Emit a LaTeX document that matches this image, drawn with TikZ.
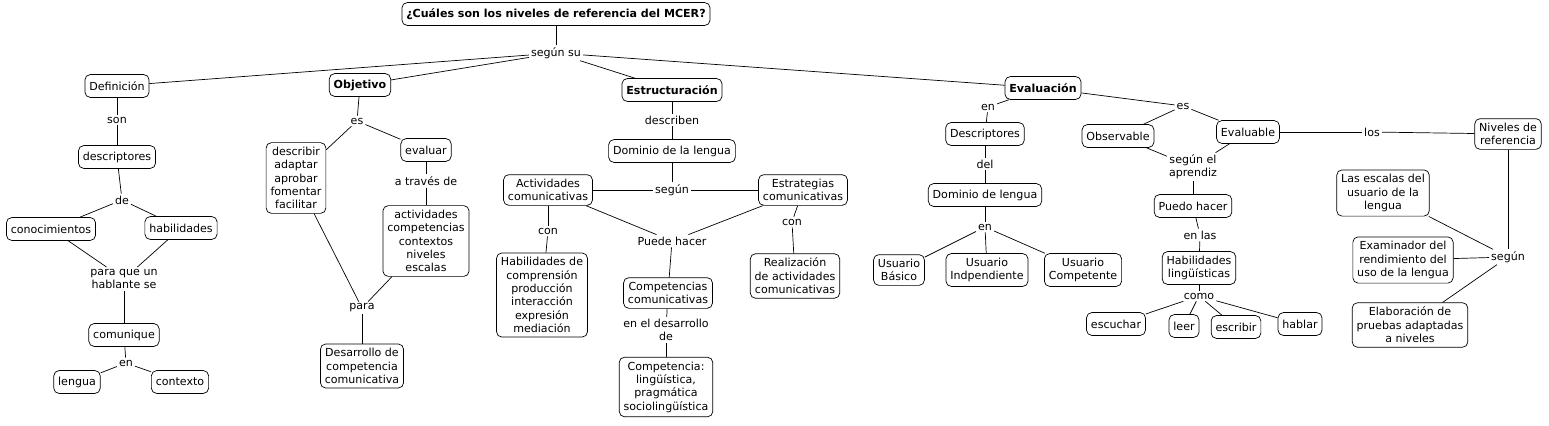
\documentclass[tikz,border=0pt]{standalone}
\usepackage{fontspec}
\setmainfont{DejaVu Sans}
\begin{document}
\begin{tikzpicture}[x=0.02cm, y=-0.02cm, font=\fontsize{6.3}{7.6}\selectfont,
  box/.style={draw, rounded corners=3pt, fill=white, align=center, inner sep=2.5pt, minimum height=13pt},
  lnk/.style={fill=white, align=center, inner sep=1pt}]
\useasboundingbox (0,0) rectangle (1549,426);
% nodos principales
\node[box, font=\fontsize{6.3}{7.6}\selectfont\bfseries] (tit) at (556,14) {¿Cuáles son los niveles de referencia del MCER?};
\node[lnk] (segsu) at (556,53) {según su};
\node[box] (def) at (117,86) {Definición};
\node[box, font=\fontsize{6.3}{7.6}\selectfont\bfseries] (obj) at (360,85) {Objetivo};
\node[box, font=\fontsize{6.3}{7.6}\selectfont\bfseries] (est) at (672,90) {Estructuración};
\node[box, font=\fontsize{6.3}{7.6}\selectfont\bfseries] (eva) at (1043,88) {Evaluación};
% definicion
\node[lnk] (son) at (117,120) {son};
\node[box] (desc) at (117,157) {descriptores};
\node[lnk] (de) at (122,200) {de};
\node[box] (con) at (51,229) {conocimientos};
\node[box] (hab) at (181,228) {habilidades};
\node[lnk] (pq) at (124,279) {para que un\\hablante se};
\node[box] (com) at (124,335) {comunique};
\node[lnk] (en1) at (126,363) {en};
\node[box] (len) at (77,382) {lengua};
\node[box] (ctx) at (180,382) {contexto};
% objetivo
\node[lnk] (es1) at (357,121) {es};
\node[box] (desb) at (296,178) {describir\\adaptar\\aprobar\\fomentar\\facilitar};
\node[box] (evl) at (426,150) {evaluar};
\node[lnk] (atr) at (426,181) {a través de};
\node[box] (act) at (426,241) {actividades\\competencias\\contextos\\niveles\\escalas};
\node[lnk] (para) at (362,308) {para};
\node[box] (dcc) at (362,366) {Desarrollo de\\competencia\\comunicativa};
% estructuracion
\node[lnk] (dsc) at (672,120) {describen};
\node[box] (dom) at (672,151) {Dominio de la lengua};
\node[box] (acom) at (548,190) {Actividades\\comunicativas};
\node[lnk] (seg1) at (672,190) {según};
\node[box] (ecom) at (803,190) {Estrategias\\comunicativas};
\node[lnk] (con1) at (548,231) {con};
\node[lnk] (con2) at (792,222) {con};
\node[box] (hcom) at (542,295) {Habilidades de\\comprensión\\producción\\interacción\\expresión\\mediación};
\node[lnk] (ph) at (672,241) {Puede hacer};
\node[box] (ccom) at (668,293) {Competencias\\comunicativas};
\node[lnk] (eld) at (666,330) {en el desarrollo\\de};
\node[box] (clps) at (666,387) {Competencia:\\lingüística,\\pragmática\\sociolingüística};
\node[box] (rac) at (795,276) {Realización\\de actividades\\comunicativas};
% evaluacion
\node[lnk] (en2) at (988,107) {en};
\node[box] (Desc) at (985,134) {Descriptores};
\node[lnk] (del) at (985,164) {del};
\node[box] (dol) at (985,195) {Dominio de lengua};
\node[lnk] (en3) at (985,227) {en};
\node[box] (ub) at (899,270) {Usuario\\Básico};
\node[box] (ui) at (987,270) {Usuario\\Indpendiente};
\node[box] (uc) at (1083,270) {Usuario\\Competente};
\node[lnk] (es2) at (1183,106) {es};
\node[box] (obs) at (1118,136) {Observable};
\node[box] (evb) at (1248,132) {Evaluable};
\node[lnk] (los) at (1372,132) {los};
\node[box] (niv) at (1508,134) {Niveles de\\referencia};
\node[lnk] (sea) at (1193,167) {según el\\aprendiz};
\node[box] (puh) at (1193,206) {Puedo hacer};
\node[lnk] (enl) at (1200,235) {en las};
\node[box] (hli) at (1199,268) {Habilidades\\lingüísticas};
\node[lnk] (como) at (1199,296) {como};
\node[box] (esc) at (1116,324) {escuchar};
\node[box] (lee) at (1184,326) {leer};
\node[box] (escr) at (1236,327) {escribir};
\node[box] (hab2) at (1300,324) {hablar};
\node[box] (eul) at (1383,193) {Las escalas del\\usuario de la\\lengua};
\node[box] (exa) at (1403,260) {Examinador del\\rendimiento del\\uso de la lengua};
\node[lnk] (seg2) at (1508,257) {según};
\node[box] (ela) at (1410,325) {Elaboración de\\pruebas adaptadas\\a niveles};
% conectores
\begin{scope}[on background layer/.style={}]
\foreach \a/\b in {tit/segsu, segsu/def, segsu/obj, segsu/est, segsu/eva,
  def/son, son/desc, desc/de, de/con, de/hab, con/pq, hab/pq, pq/com, com/en1, en1/len, en1/ctx,
  obj/es1, es1/desb, es1/evl, evl/atr, atr/act, desb/para, act/para, para/dcc,
  est/dsc, dsc/dom, dom/seg1, acom/seg1, seg1/ecom, acom/con1, con1/hcom, ecom/con2, con2/rac,
  acom/ph, ecom/ph, ph/ccom, ccom/eld, eld/clps,
  eva/en2, en2/Desc, Desc/del, del/dol, dol/en3, en3/ub, en3/ui, en3/uc,
  eva/es2, es2/obs, es2/evb, evb/los, los/niv, obs/sea, evb/sea, sea/puh, puh/enl, enl/hli, hli/como,
  como/esc, como/lee, como/escr, como/hab2, niv/seg2, eul/seg2, exa/seg2, ela/seg2}
  \draw (\a) -- (\b);
\end{scope}
\end{tikzpicture}
\end{document}
